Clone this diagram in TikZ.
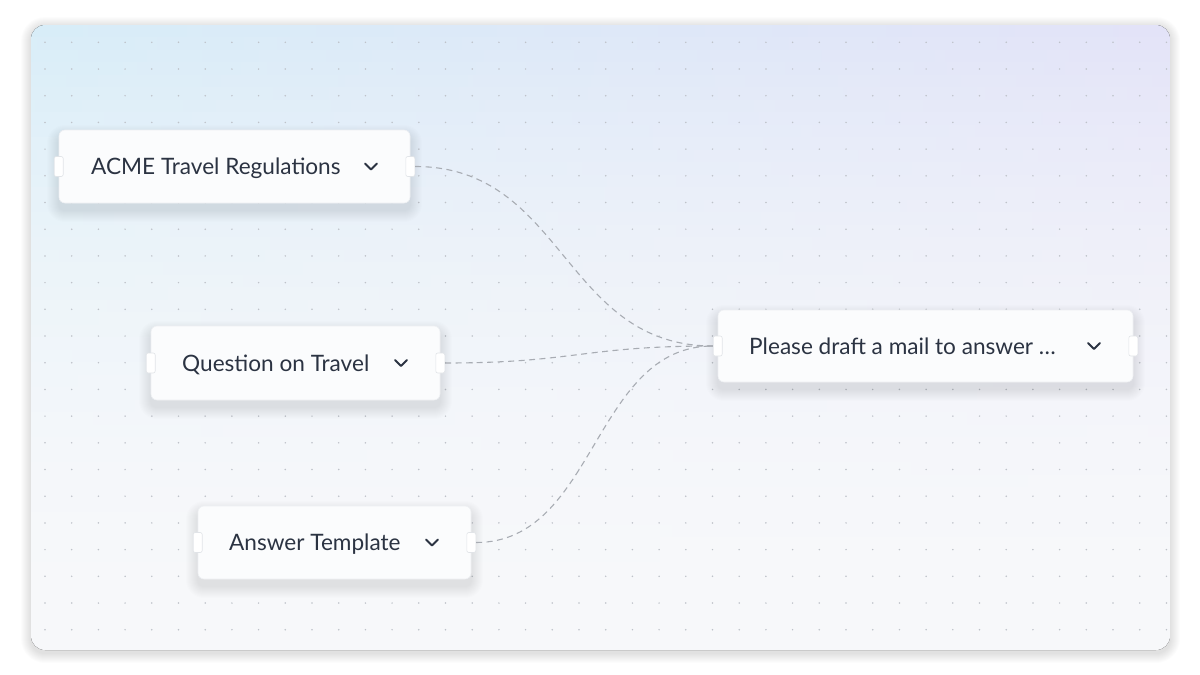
\documentclass[tikz,border=0pt]{standalone}
\usepackage{fontspec}
\setmainfont{Lato}
\definecolor{bgbase}{HTML}{F7F8FA}
\definecolor{tlblue}{HTML}{D8EDF8}
\definecolor{trlav}{HTML}{E3E3F8}
\definecolor{dotc}{HTML}{BEC2C9}
\definecolor{nodefill}{HTML}{FBFCFD}
\definecolor{nodeborder}{HTML}{EEF0F3}
\definecolor{portborder}{HTML}{E1E4E8}
\definecolor{txt}{HTML}{2B3342}
\definecolor{edgec}{HTML}{A8ACB3}
\newcommand\myshadow[5]{% x1 ytop x2 ybottom radius
  \foreach \k in {1,...,12}{%
    \fill[black, fill opacity=0.0085, rounded corners={(#5+\k)*1pt}]
      ({#1-\k},{#2-7+\k}) rectangle ({#3+\k},{#4-7-\k});
  }%
}
\begin{document}
\begin{tikzpicture}[x=1pt,y=1pt,
  box/.style={draw=nodeborder, line width=0.6pt, fill=nodefill, rounded corners=6pt, inner sep=0pt},
  port/.style={draw=portborder, line width=0.6pt, fill=white, rounded corners=2pt, inner sep=0pt,
    minimum width=9pt, minimum height=20pt},
  lbl/.style={anchor=base west, inner sep=0pt, text=txt, font=\fontsize{22.6}{26}\selectfont},
  chev/.style={draw=txt, line width=1.9pt, line cap=round, line join=round},
  edge/.style={draw=edgec, line width=1.1pt, dash pattern=on 6pt off 4.5pt}]
\useasboundingbox (0,0) rectangle (1200,-675);
% panel
\fill[white] (0,0) rectangle (1200,-675);
\foreach \k in {1,...,10}{%
  \fill[black, fill opacity=0.012, rounded corners={(14+\k)*1pt}]
    ({31-\k},{-27+\k}) rectangle ({1170+\k},{-653-\k});
}
\begin{scope}
\clip[rounded corners=14pt] (31,-25) rectangle (1170,-650);
\fill[bgbase] (31,-25) rectangle (1170,-650);
\foreach \s in {0,...,49}{
  \pgfmathtruncatemacro\p{100*(1-\s/49)^2}
  \pgfmathsetmacro\ya{-25-\s*12.5}
  \pgfmathsetmacro\yb{-25-(\s+1)*12.5-1}
  \fill[left color=tlblue!\p!bgbase, right color=trlav!\p!bgbase] (31,\ya) rectangle (1170,\yb);
}
\foreach \i in {0,...,42}{
  \foreach \j in {0,...,22}{
    \fill[dotc] ({45+26.7*\i},{-42.3-26.7*\j}) circle (0.85);
  }
}
\end{scope}
% shadows
\myshadow{59}{-130}{410}{-203}{6}
\myshadow{151}{-326}{440}{-400}{6}
\myshadow{198}{-506}{471}{-579}{6}
\myshadow{718}{-310}{1133}{-382}{6}
% nodes
\node[box, minimum width=351pt, minimum height=73pt] (n1) at (234.5,-166.5) {};
\node[box, minimum width=289pt, minimum height=74pt] (n2) at (295.5,-363) {};
\node[box, minimum width=273pt, minimum height=73pt] (n3) at (334.5,-542.5) {};
\node[box, minimum width=415pt, minimum height=72pt] (n4) at (925.5,-346) {};
\node[port] (n1l) at (n1.west) {};
\node[port] (n1r) at (n1.east) {};
\node[port] (n2l) at (n2.west) {};
\node[port] (n2r) at (n2.east) {};
\node[port] (n3l) at (n3.west) {};
\node[port] (n3r) at (n3.east) {};
\node[port] (n4l) at (n4.west) {};
\node[port] (n4r) at (n4.east) {};
\node[lbl] (t1) at (91,-174) {ACME Travel Regulations};
\node[lbl] (t2) at (182,-371) {Question on Travel};
\node[lbl] (t3) at (229,-550) {Answer Template};
\node[lbl] (t4) at (749,-354) {Please draft a mail to answer \dots};
\draw[chev] (365,-163.5) -- (371,-169.5) -- (377,-163.5);
\draw[chev] (395,-360) -- (401,-366) -- (407,-360);
\draw[chev] (426,-539.5) -- (432,-545.5) -- (438,-539.5);
\draw[chev] (1088,-343) -- (1094,-349) -- (1100,-343);
% edges
\draw[edge] (n1r.east) .. controls +(150,0) and +(-150,0) .. (n4l.west);
\draw[edge] (n2r.east) .. controls +(130,0) and +(-130,0) .. (n4l.west);
\draw[edge] (n3r.east) .. controls +(120,0) and +(-120,0) .. (n4l.west);
\end{tikzpicture}
\end{document}
